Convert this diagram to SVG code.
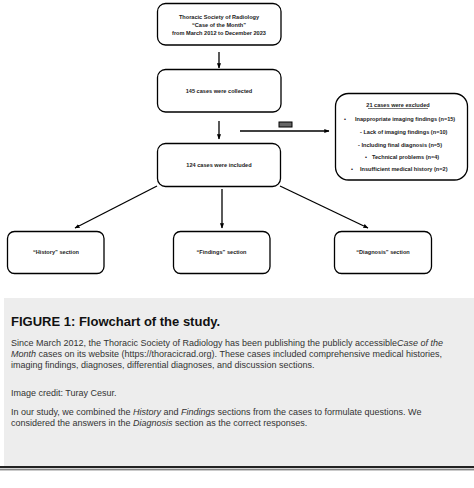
<svg xmlns="http://www.w3.org/2000/svg" width="474" height="488" viewBox="0 0 474 488">
<defs>
<marker id="ah" viewBox="0 0 10 10" refX="9" refY="5" markerWidth="4" markerHeight="4" orient="auto" markerUnits="strokeWidth">
<path d="M0,1 L10,5 L0,9 z" fill="#000"/>
</marker>
<style>
.box{fill:#fff;stroke:#000;stroke-width:1.3}
.ft{font-family:"Liberation Sans",Arial,sans-serif;font-weight:bold;font-size:5.6px;fill:#222;text-anchor:middle}
.fl{font-family:"Liberation Sans",Arial,sans-serif;font-weight:bold;font-size:5.6px;fill:#222}
.cn{stroke:#000;stroke-width:1.3;fill:none;marker-end:url(#ah)}
.cap{font-family:"Liberation Sans",Arial,sans-serif;font-size:9px;fill:#333}
.title{font-family:"Liberation Sans",Arial,sans-serif;font-size:13px;font-weight:bold;fill:#111}
</style>
</defs>
<rect width="474" height="488" fill="#fff"/>
<g id="connectors">
<line class="cn" x1="219" y1="52" x2="219" y2="68"/>
<line class="cn" x1="219" y1="121" x2="219" y2="139"/>
<line class="cn" x1="240" y1="131" x2="329" y2="131"/>
<rect x="279" y="122" width="13" height="5" fill="#666" stroke="#000" stroke-width="1"/>
<line class="cn" x1="157" y1="186" x2="75" y2="228"/>
<line class="cn" x1="222" y1="189" x2="222" y2="228"/>
<line class="cn" x1="280" y1="186" x2="368" y2="228"/>
</g>
<g id="n-source">
<rect class="box" x="157.5" y="3.5" width="123.5" height="41.5" rx="8"/>
<text class="ft" x="219" y="19">Thoracic Society of Radiology</text>
<text class="ft" x="219" y="27">“Case of the Month”</text>
<text class="ft" x="219" y="35">from March 2012 to December 2023</text>
</g>
<g id="n-collected">
<rect class="box" x="157.5" y="69.5" width="123.5" height="42.5" rx="8"/>
<text class="ft" x="219" y="93">145 cases were collected</text>
</g>
<g id="n-excluded">
<rect class="box" x="335.5" y="93.5" width="132" height="86.5" rx="13"/>
<text class="ft" x="398" y="107">21 cases were excluded</text>
<line x1="368" y1="108.5" x2="428" y2="108.5" stroke="#222" stroke-width="0.6"/>
<text class="fl" x="344" y="121">•</text>
<text class="fl" x="355" y="121">Inappropriate imaging findings (n=15)</text>
<text class="fl" x="360" y="134">- Lack of imaging findings (n=10)</text>
<text class="fl" x="358" y="147">- Including final diagnosis (n=5)</text>
<text class="fl" x="365" y="159">•</text>
<text class="fl" x="372" y="159">Technical problems (n=4)</text>
<text class="fl" x="351" y="171">•</text>
<text class="fl" x="360" y="171">Insufficient medical history (n=2)</text>
</g>
<g id="n-included">
<rect class="box" x="157.5" y="143.5" width="123" height="43" rx="8"/>
<text class="ft" x="219" y="167">124 cases were included</text>
</g>
<g id="n-history">
<rect class="box" x="7.5" y="231.5" width="96.5" height="42" rx="7"/>
<text class="ft" x="56" y="254">“History” section</text>
</g>
<g id="n-findings">
<rect class="box" x="173.5" y="231.5" width="96.5" height="42" rx="7"/>
<text class="ft" x="221.5" y="254">“Findings” section</text>
</g>
<g id="n-diagnosis">
<rect class="box" x="334.5" y="231.5" width="97" height="42" rx="7"/>
<text class="ft" x="383" y="254">“Diagnosis” section</text>
</g>
<g id="caption">
<rect x="4" y="298" width="470" height="168" fill="#ededed"/>
<text class="title" x="11" y="326">FIGURE 1: Flowchart of the study.</text>
<text class="cap" x="11" y="346">Since March 2012, the Thoracic Society of Radiology has been publishing the publicly accessible<tspan font-style="italic">Case of the</tspan></text>
<text class="cap" x="11" y="357"><tspan font-style="italic">Month</tspan> cases on its website (https://thoracicrad.org). These cases included comprehensive medical histories,</text>
<text class="cap" x="11" y="367.5">imaging findings, diagnoses, differential diagnoses, and discussion sections.</text>
<text class="cap" x="11" y="396">Image credit: Turay Cesur.</text>
<text class="cap" x="11" y="415">In our study, we combined the <tspan font-style="italic">History</tspan> and <tspan font-style="italic">Findings</tspan> sections from the cases to formulate questions. We</text>
<text class="cap" x="11" y="425.5">considered the answers in the <tspan font-style="italic">Diagnosis</tspan> section as the correct responses.</text>
<rect x="0" y="466" width="474" height="2.2" fill="#222"/>
<rect x="0" y="469.3" width="474" height="1" fill="#555"/>
</g>
</svg>
